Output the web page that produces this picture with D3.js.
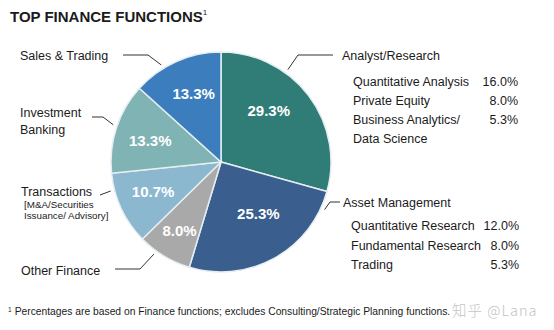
<!DOCTYPE html>
<html>
<head>
<meta charset="utf-8">
<script src="https://cdn.jsdelivr.net/npm/d3@7"></script>
<style>
  html, body { margin: 0; padding: 0; background: #fff; }
  svg { display: block; font-family: "Liberation Sans", Arial, sans-serif; }
</style>
</head>
<body>
<svg id="chart" width="554" height="330"></svg>
<script>
// Share of finance functions (percent), clockwise from 12 o'clock
const functions = ["Analyst/Research", "Asset Management", "Other Finance", "Transactions", "Investment Banking", "Sales & Trading"];
const shares = [29.3, 25.3, 8.0, 10.7, 13.3, 13.3];
const sliceColors = ["#2f7d76", "#3a5e8e", "#a9a9a9", "#8cb8cf", "#80b3b4", "#3b7dbd"];

// Breakdowns listed beside the pie
const analystItems = ["Quantitative Analysis", "Private Equity", "Business Analytics/"];
const analystValues = [16.0, 8.0, 5.3];
const assetItems = ["Quantitative Research", "Fundamental Research", "Trading"];
const assetValues = [12.0, 8.0, 5.3];

const fmt = d3.format(".1f");
const svg = d3.select("#chart");
const ink = "#1b1b1b";

// Title
const title = svg.append("text").attr("x", 10).attr("y", 22)
  .attr("font-size", 15).attr("font-weight", "bold").attr("fill", ink)
  .text("TOP FINANCE FUNCTIONS");
title.append("tspan").attr("font-size", 8).attr("font-weight", "normal").attr("dy", -7).text("1");

// Pie
const cx = 221, cy = 162, r = 110;
const pie = d3.pie().sort(null).value(d => d);
const arcs = pie(shares);
const arc = d3.arc().innerRadius(0).outerRadius(r);
const g = svg.append("g").attr("transform", `translate(${cx},${cy})`);

g.selectAll("path.slice").data(arcs).join("path")
  .attr("class", "slice")
  .attr("d", arc)
  .attr("fill", (d, i) => sliceColors[i])
  .attr("stroke", "#e6eef2").attr("stroke-width", 1.5);

// Percentage labels inside the slices
const labelRadius = [70, 64, 80, 74, 74, 74];
const labelNudge = [-0.17, -0.12, 0, 0.03, -0.02, 0.04]; // radians
g.selectAll("text.pct").data(arcs).join("text")
  .attr("class", "pct")
  .attr("transform", (d, i) => {
    const a = (d.startAngle + d.endAngle) / 2 + labelNudge[i];
    return `translate(${labelRadius[i] * Math.sin(a)},${-labelRadius[i] * Math.cos(a)})`;
  })
  .attr("text-anchor", "middle").attr("dy", "0.36em")
  .attr("font-size", 15).attr("font-weight", "bold").attr("fill", "#fff")
  .text(d => fmt(d.data) + "%");

// Leader lines: start just outside the rim, then an elbow to the label
const anchorFrac = [0.34, 0.10, 0.67, 0.77, 0.52, 0.34];
const leaders = [
  { elbow: [298, 55], end: [333, 55] },
  { elbow: [330, 202], end: [340, 202] },
  { elbow: [140, 269], end: [115, 269] },
  { elbow: [100, 195], end: [100, 195] },
  { elbow: [103, 117], end: [92, 117] },
  { elbow: [148, 55], end: [123, 55] }
];
arcs.forEach((d, i) => {
  const a = d.startAngle + anchorFrac[i] * (d.endAngle - d.startAngle);
  const rr = r + 4;
  const p0 = [cx + rr * Math.sin(a), cy - rr * Math.cos(a)];
  const L = leaders[i];
  svg.append("path")
    .attr("d", d3.line()([p0, L.elbow, L.end]))
    .attr("fill", "none").attr("stroke", "#333").attr("stroke-width", 1);
});

// Category names on the left
const fs = 12.5;
function label(x, y, lines, size, color) {
  const t = svg.append("text").attr("x", x).attr("y", y)
    .attr("font-size", size || fs).attr("fill", color || ink);
  lines.forEach((s, k) => t.append("tspan").attr("x", x).attr("dy", k ? 17 : 0).text(s));
  return t;
}
label(20, 60, [functions[5]]);
label(20, 117, ["Investment", "Banking"]);
label(21, 196, [functions[3]]);
svg.append("text").attr("x", 24).attr("y", 208).attr("font-size", 9.8).attr("fill", ink).text("[M&A/Securities");
svg.append("text").attr("x", 24).attr("y", 219).attr("font-size", 9.8).attr("fill", ink).text("Issuance/ Advisory]");
label(21, 275, [functions[2]]);

// Right-hand breakdowns
label(342, 60, [functions[0]]);
const yA = d3.scalePoint().domain(analystItems).range([86, 124]);
analystItems.forEach((s, i) => {
  svg.append("text").attr("x", 353).attr("y", yA(s)).attr("font-size", fs).attr("fill", ink).text(s);
  svg.append("text").attr("x", 518).attr("y", yA(s)).attr("text-anchor", "end")
    .attr("font-size", fs).attr("fill", ink).text(fmt(analystValues[i]) + "%");
});
svg.append("text").attr("x", 353).attr("y", 143).attr("font-size", fs).attr("fill", ink).text("Data Science");

label(343, 207, [functions[1]]);
const yM = d3.scalePoint().domain(assetItems).range([230, 269]);
assetItems.forEach((s, i) => {
  svg.append("text").attr("x", 351).attr("y", yM(s)).attr("font-size", fs).attr("fill", ink).text(s);
  svg.append("text").attr("x", 519).attr("y", yM(s)).attr("text-anchor", "end")
    .attr("font-size", fs).attr("fill", ink).text(fmt(assetValues[i]) + "%");
});

// Footnote
const foot = svg.append("text").attr("x", 8).attr("y", 315).attr("font-size", 10.3).attr("fill", ink);
foot.append("tspan").attr("font-size", 6.5).attr("dy", -3).text("1");
foot.append("tspan").attr("dy", 3).attr("dx", 3)
  .text("Percentages are based on Finance functions; excludes Consulting/Strategic Planning functions.");

// Watermark
svg.append("text").attr("x", 452).attr("y", 316).attr("font-size", 14.5).attr("letter-spacing", 1)
  .attr("font-family", "'Noto Sans CJK SC', sans-serif").attr("font-weight", 300)
  .attr("fill", "#c4c4c4").text("知乎 @Lana");
</script>
</body>
</html>
